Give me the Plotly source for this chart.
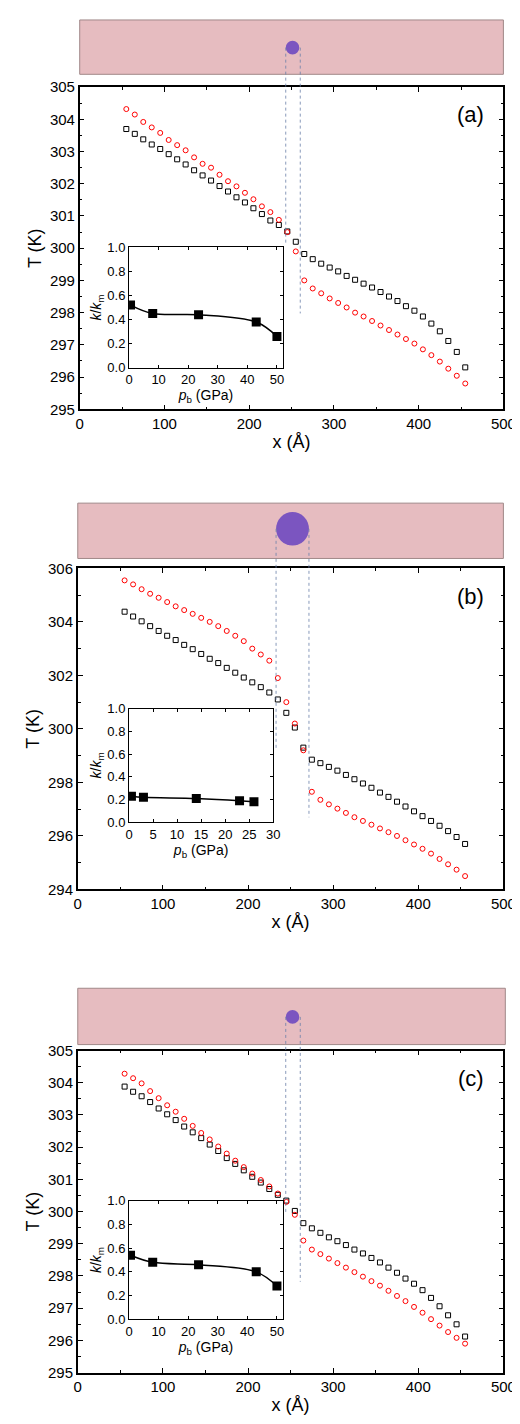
import plotly.graph_objects as go

W, H = 520, 1424
x_pos = list(range(55, 456, 10))

a_black = [303.70,303.55,303.38,303.22,303.08,302.92,302.76,302.60,302.42,302.26,302.10,301.93,301.76,301.58,301.42,301.24,301.06,300.86,300.72,300.52,300.20,299.82,299.66,299.52,299.40,299.28,299.14,299.02,298.90,298.78,298.64,298.50,298.36,298.20,298.06,297.88,297.66,297.42,297.12,296.78,296.30]
a_red = [304.32,304.15,303.92,303.75,303.58,303.36,303.20,303.04,302.82,302.62,302.50,302.28,302.08,301.92,301.72,301.52,301.30,301.12,300.88,300.50,299.90,299.00,298.75,298.60,298.44,298.30,298.16,298.00,297.88,297.74,297.60,297.46,297.32,297.18,297.04,296.86,296.68,296.48,296.26,296.04,295.80]
b_black = [304.38,304.20,304.02,303.84,303.66,303.48,303.32,303.14,302.98,302.80,302.62,302.46,302.28,302.10,301.92,301.74,301.56,301.36,301.10,300.60,300.05,299.30,298.85,298.72,298.58,298.44,298.28,298.12,297.96,297.80,297.62,297.46,297.28,297.10,296.92,296.74,296.56,296.38,296.18,295.96,295.70]
b_red = [305.55,305.40,305.22,305.05,304.90,304.74,304.58,304.44,304.30,304.15,304.00,303.84,303.66,303.48,303.28,303.00,302.78,302.55,301.90,301.00,300.20,299.20,297.65,297.35,297.18,297.02,296.86,296.70,296.56,296.42,296.28,296.14,296.00,295.84,295.68,295.52,295.34,295.14,294.94,294.74,294.50]
c_black = [303.88,303.72,303.58,303.40,303.20,303.02,302.84,302.64,302.46,302.28,302.08,301.88,301.66,301.48,301.28,301.08,300.90,300.70,300.52,300.34,300.02,299.64,299.48,299.34,299.20,299.08,298.96,298.82,298.70,298.56,298.42,298.26,298.10,297.92,297.76,297.56,297.32,297.06,296.78,296.50,296.12]
c_red = [304.28,304.14,303.98,303.74,303.52,303.30,303.10,302.88,302.66,302.44,302.24,302.02,301.80,301.58,301.38,301.18,300.98,300.78,300.56,300.30,299.90,299.10,298.82,298.68,298.54,298.40,298.26,298.12,297.98,297.84,297.70,297.54,297.38,297.22,297.04,296.86,296.66,296.46,296.26,296.08,295.90]

a_pb = [0.5, 8, 23.5, 43, 50]; a_k = [0.52, 0.45, 0.44, 0.38, 0.26]
b_pb = [0.5, 3, 14, 23, 26]; b_k = [0.23, 0.22, 0.21, 0.19, 0.18]
c_pb = [0.5, 8, 23.5, 43, 50]; c_k = [0.54, 0.48, 0.46, 0.40, 0.28]

panels = [
    dict(lab="(a)", blk=a_black, red=a_red, pb=a_pb, k=a_k, yr=[295, 305], ydt=1,
         main=(70, 508, 71, 397), ins=(121, 280, 233, 355), ixr=[0, 52], ixd=10,
         strip=(70, 508, 3, 58), circ=(290, 31, 7), dash=(283, 298, 230, 300)),
    dict(lab="(b)", blk=b_black, red=b_red, pb=b_pb, k=b_k, yr=[294, 306], ydt=2,
         main=(68, 508, 558, 883), ins=(121, 270, 700, 815), ixr=[0, 30], ixd=5,
         strip=(68, 508, 492, 548), circ=(290, 518, 17), dash=(273, 307, 740, 810)),
    dict(lab="(c)", blk=c_black, red=c_red, pb=c_pb, k=c_k, yr=[295, 305], ydt=1,
         main=(68, 508, 1046, 1372), ins=(121, 280, 1198, 1318), ixr=[0, 52], ixd=10,
         strip=(68, 510, 983, 1040), circ=(290, 1012, 7), dash=(283, 298, 1210, 1280)),
]

def px(x): return x / W
def py(y): return 1 - y / H

fig = go.Figure()
layout = {}
shapes = []
annotations = []
FAM = "Liberation Sans, Arial"
font = dict(family=FAM, size=15, color="black")

for i, p in enumerate(panels):
    m = 2 * i + 1
    n = 2 * i + 2
    x0, x1, y0, y1 = p["main"]
    common = dict(showline=True, linecolor="black", linewidth=1.5, mirror="ticks",
                  ticks="inside", ticklen=5, tickcolor="black", showgrid=False,
                  zeroline=False, tickfont=font)
    layout[f"xaxis{m}"] = dict(common, domain=[px(x0), px(x1)], range=[0, 500], dtick=100,
                               anchor=f"y{m}", minor=dict(ticks="inside", ticklen=3, dtick=50),
                               title=dict(text="x (Å)", font=dict(size=18, family=FAM, color="black"), standoff=4))
    layout[f"yaxis{m}"] = dict(common, domain=[py(y1), py(y0)], range=p["yr"], dtick=p["ydt"],
                               anchor=f"x{m}", minor=dict(ticks="inside", ticklen=3, dtick=p["ydt"] / 2),
                               title=dict(text="T (K)", font=dict(size=18, family=FAM, color="black"), standoff=4))
    fig.add_trace(go.Scatter(x=x_pos, y=p["blk"], mode="markers", xaxis=f"x{m}", yaxis=f"y{m}",
                             marker=dict(symbol="square-open", size=5, color="black", line=dict(width=1))))
    fig.add_trace(go.Scatter(x=x_pos, y=p["red"], mode="markers", xaxis=f"x{m}", yaxis=f"y{m}",
                             marker=dict(symbol="circle-open", size=5, color="red", line=dict(width=1))))
    ix0, ix1, iy0, iy1 = p["ins"]
    ifont = dict(family=FAM, size=13, color="black")
    icommon = dict(common, tickfont=ifont, linewidth=1, ticklen=3)
    layout[f"xaxis{n}"] = dict(icommon, domain=[px(ix0), px(ix1)], range=p["ixr"], dtick=p["ixd"],
                               anchor=f"y{n}",
                               title=dict(text="<i>p</i><sub>b</sub> (GPa)", font=dict(size=14, family=FAM, color="black"), standoff=0))
    layout[f"yaxis{n}"] = dict(icommon, domain=[py(iy1), py(iy0)], range=[0, 1], dtick=0.2, tickformat=".1f",
                               anchor=f"x{n}",
                               title=dict(text="<i>k</i>/<i>k</i><sub>m</sub>", font=dict(size=14, family=FAM, color="black"), standoff=2))
    fig.add_trace(go.Scatter(x=p["pb"], y=p["k"], mode="lines+markers", xaxis=f"x{n}", yaxis=f"y{n}",
                             line=dict(shape="spline", color="black", width=1.5),
                             marker=dict(symbol="square", size=9, color="black")))
    sx0, sx1, sy0, sy1 = p["strip"]
    shapes.append(dict(type="rect", xref="paper", yref="paper", x0=px(sx0), x1=px(sx1), y0=py(sy1), y1=py(sy0),
                       fillcolor="#e6bcc0", line=dict(color="#a08888", width=1), layer="below"))
    cx, cy, r = p["circ"]
    shapes.append(dict(type="circle", xref="paper", yref="paper", x0=px(cx - r), x1=px(cx + r),
                       y0=py(cy + r), y1=py(cy - r), fillcolor="#7b55c0", line=dict(width=0)))
    d0, d1, e0, e1 = p["dash"]
    for dx, ey in [(d0, e0), (d1, e1)]:
        shapes.append(dict(type="line", xref="paper", yref="paper", x0=px(dx), x1=px(dx),
                           y0=py(cy), y1=py(ey), line=dict(color="#6a7fa8", width=0.8, dash="dot")))
    annotations.append(dict(text=p["lab"], xref="paper", yref="paper", x=px(490), y=py(y0 + 28),
                            xanchor="right", yanchor="middle", showarrow=False,
                            font=dict(family=FAM, size=22, color="black")))
    shapes.append(dict(type="rect", xref="paper", yref="paper", x0=px(ix0), x1=px(ix1), y0=py(iy1), y1=py(iy0),
                       fillcolor="white", line=dict(width=0), layer="below"))

fig.update_layout(width=W, height=H, margin=dict(l=0, r=0, t=0, b=0), showlegend=False,
                  paper_bgcolor="white", plot_bgcolor="rgba(0,0,0,0)", shapes=shapes,
                  annotations=annotations, **layout)
fig.write_html("out.html")
